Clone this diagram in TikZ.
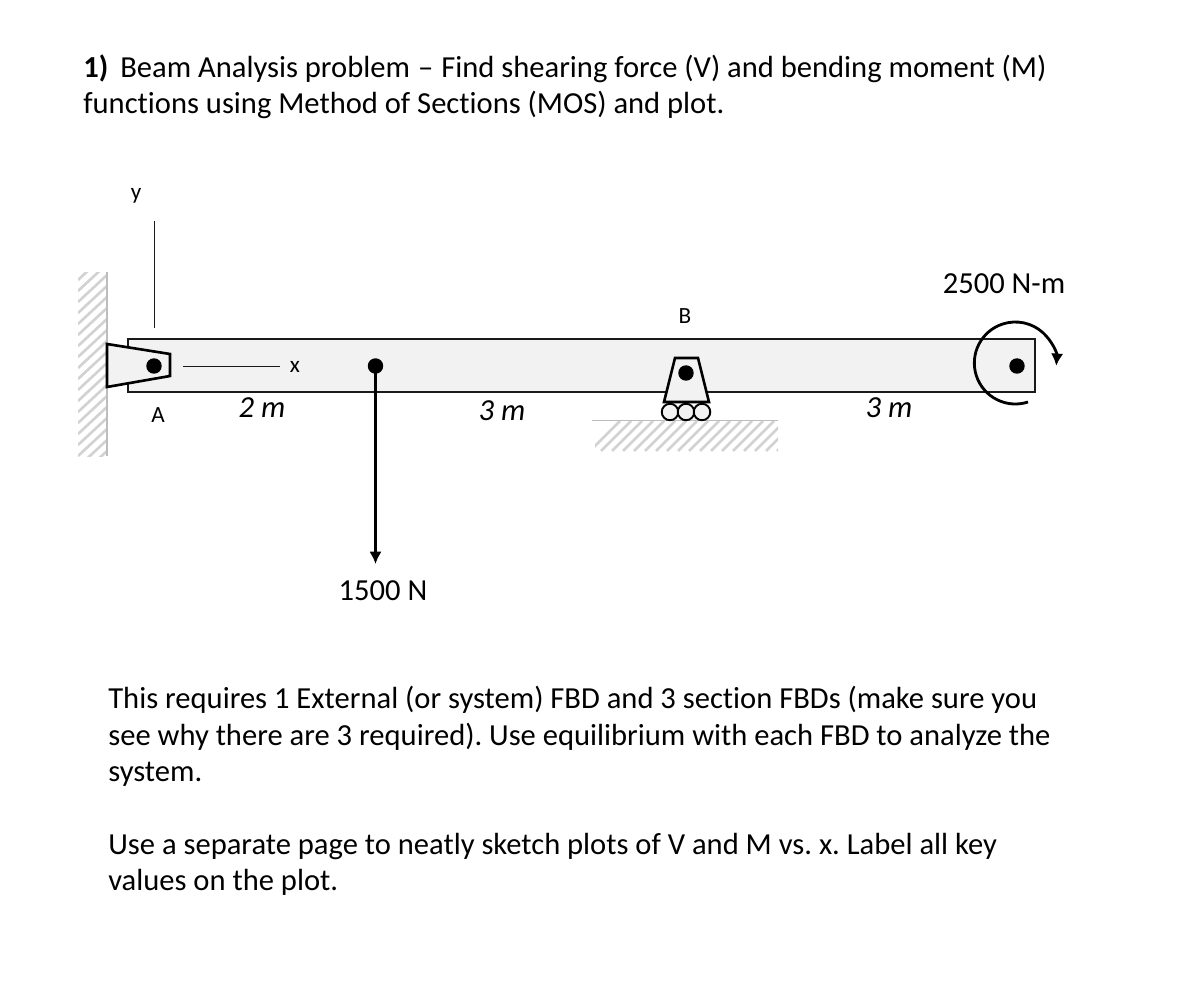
\documentclass[tikz,border=0pt]{standalone}
\usepackage{fontspec}
\setmainfont[Ligatures=CommonOff]{Carlito}
\usepackage{xcolor}
\usetikzlibrary{calc,arrows.meta}
\definecolor{beamfill}{HTML}{F2F2F2}
\definecolor{hatch}{HTML}{D2D2D2}
\definecolor{edge}{HTML}{BDBDBD}
\definecolor{ink}{HTML}{1A1A1A}
\frenchspacing
\tikzset{
  beam/.style={draw=ink, fill=beamfill, line width=1.2pt},
  part/.style={draw=black, fill=beamfill, line width=1.5pt},
  roller/.style={circle, draw=black, fill=beamfill, line width=1.1pt, inner sep=0pt, minimum size=9.4pt},
  axis/.style={draw=ink, line width=0.5pt},
  force/.style={draw=black, line width=2.2pt, -{Latex[length=7pt,width=7pt]}},
  pt/.style={circle, fill=black, inner sep=0pt, minimum size=8.8pt},
  hatchline/.style={draw=hatch, line width=1.5pt},
  wallline/.style={draw=edge, line width=1.1pt},
  para/.style={anchor=north west, align=left, inner sep=0pt, font=\fontsize{17.4}{20.7}\selectfont},
  labm/.style={font=\fontsize{17.4}{20}\selectfont},
  labs/.style={font=\fontsize{13.2}{15}\selectfont},
  dim/.style={font=\fontsize{17.4}{20}\selectfont\itshape}
}
\begin{document}
\begin{tikzpicture}[x=0.02cm,y=-0.02cm]
  \useasboundingbox (0,0) rectangle (1179,989);

  % wall and ground
  \begin{scope}
    \clip (78,273) rectangle (107,456);
    \foreach \k in {280,291,...,500} \draw[hatchline] (78,\k)--(107,\k-27);
  \end{scope}
  \draw[wallline] (107,272)--(107,456);
  \begin{scope}
    \clip (595,421) rectangle (778,451);
    \foreach \k in {590,601,...,800} \draw[hatchline] (\k,451)--(\k+30,421);
  \end{scope}
  \draw[wallline] (592,420.5)--(778,420.5);

  % beam
  \draw[beam] (128,339) rectangle (1035,392);

  % pin at A
  \draw[part] (107,344)--(170,354)--(170,376)--(107,387)--cycle;
  \node[pt] (A) at (154,366) {};

  % axes
  \coordinate (yb) at (154,328);
  \coordinate (yt) at (154,221);
  \coordinate (xa) at (183,366);
  \coordinate (xb) at (280,366);
  \draw[axis] (yb)--(yt);
  \draw[axis] (xa)--(xb);
  \node[labs] (ylab) at (136,196) {y};
  \node[labs] (xlab) at (295,367) {x};
  \node[labs] (Alab) at (158,415) {A};

  % point load
  \node[pt] (P) at (375.5,366) {};
  \coordinate (Ptip) at (375.5,564);
  \draw[force] (P.center)--(Ptip);
  \node[labm] (Plab) at (383,591) {1500 N};

  % roller at B
  \draw[part] (675,358)--(698,358)--(709,402)--(664,402)--cycle;
  \node[pt] (B) at (686,373) {};
  \node[roller] (r1) at (670,412) {};
  \node[roller] (r2) at (686,412) {};
  \node[roller] (r3) at (702,412) {};
  \node[labs] (Blab) at (685,316) {B};

  % moment at the end
  \node[pt] (C) at (1017,366) {};
  \draw[line width=1.6pt, -{Latex[length=7pt,width=7pt]}] (1028,402)
    arc[start angle=72, end angle=364, radius=41];
  \node[labm] (Mlab) at (1004,284) {2500 N-m};

  % lengths
  \node[dim] (d1) at (262,408) {2 m};
  \node[dim] (d2) at (502,411) {3 m};
  \node[dim] (d3) at (889,408) {3 m};

  % text
  \node[para] (title) at (83,54) {\textbf{1)}\hspace{0.39em}Beam Analysis problem \hspace{0.04em}–\hspace{0.04em} Find shearing force (V) and bending moment (M)\\functions using Method of Sections (MOS) and plot.};
  \node[para] (req) at (108,686) {This requires 1 External (or system) FBD and 3 section FBDs (make sure you\\see why there are 3 required). Use equilibrium with each FBD to analyze the\\system.};
  \node[para] (plot) at (108,833) {Use a separate page to neatly sketch plots of V and M vs. x. Label all key\\values on the plot.};
\end{tikzpicture}
\end{document}
